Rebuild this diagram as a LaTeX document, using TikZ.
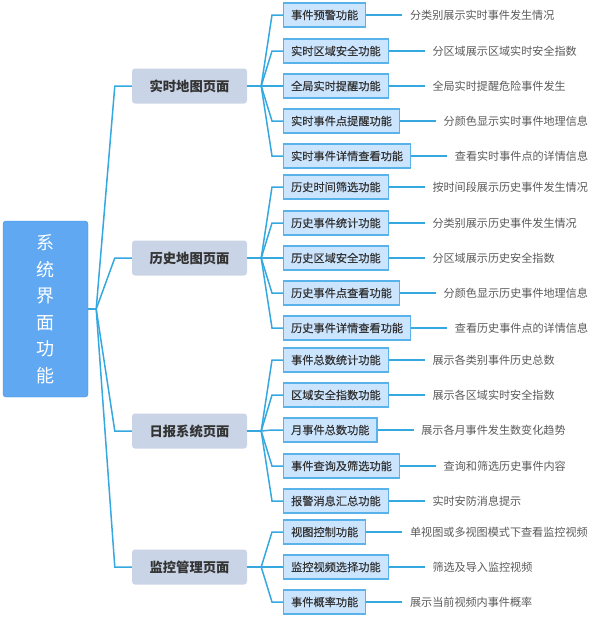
\documentclass[tikz,border=0pt]{standalone}
\usepackage{fontspec}
\setmainfont{Noto Sans CJK SC}
\newfontfamily\medfont[FakeBold=0.3]{Noto Sans CJK SC}
\usepackage{xcolor}
\usetikzlibrary{positioning}

\definecolor{rootfill}{HTML}{60A9F2}
\definecolor{rootline}{HTML}{3C8EDC}
\definecolor{pagefill}{HTML}{C9D4E6}
\definecolor{funcfill}{HTML}{CCE5FF}
\definecolor{funcline}{HTML}{5AB2EA}
\definecolor{linkcol}{HTML}{35A8E0}
\definecolor{textcol}{HTML}{333333}
\definecolor{desccol}{HTML}{595959}

\tikzset{
  rootbox/.style={draw=rootline, fill=rootfill, rounded corners=3pt, minimum width=85pt,
    minimum height=176pt, inner sep=0pt, text=white, align=center,
    font=\fontsize{18}{26.5}\selectfont},
  pagebox/.style={fill=pagefill, rounded corners=3pt, minimum width=115pt, minimum height=35pt,
    text=textcol, font=\fontsize{13.3}{15}\selectfont\bfseries},
  funcbox/.style={draw=funcline, line width=1.2pt, fill=funcfill, anchor=west, minimum height=24pt,
    inner xsep=7.5pt, inner ysep=0pt, text=textcol, font=\medfont\fontsize{11.2}{13}\selectfont},
  desc/.style={inner xsep=7.5pt, text=desccol, font=\fontsize{11.1}{13}\selectfont},
  link/.style={draw=linkcol, line width=1.5pt},
}

\begin{document}
\begin{tikzpicture}[x=1pt, y=-1pt]
\useasboundingbox (0,0) rectangle (598,622);

\node[rootbox] (root) at (45.5,309) {系\\统\\界\\面\\功\\能};

\node[pagebox] (p1) at (189.5,86) {实时地图页面};
\node[pagebox] (p2) at (189.5,258) {历史地图页面};
\node[pagebox] (p3) at (189.5,431) {日报系统页面};
\node[pagebox] (p4) at (189.5,567) {监控管理页面};

% 实时地图页面
\node[funcbox] (f11) at (283,15) {事件预警功能};
\node[funcbox] (f12) at (283,51) {实时区域安全功能};
\node[funcbox] (f13) at (283,86) {全局实时提醒功能};
\node[funcbox] (f14) at (283,121) {实时事件点提醒功能};
\node[funcbox] (f15) at (283,156) {实时事件详情查看功能};
\node[desc, right=36pt of f11] (d11) {分类别展示实时事件发生情况};
\node[desc, right=36pt of f12] (d12) {分区域展示区域实时安全指数};
\node[desc, right=36pt of f13] (d13) {全局实时提醒危险事件发生};
\node[desc, right=36pt of f14] (d14) {分颜色显示实时事件地理信息};
\node[desc, right=36pt of f15] (d15) {查看实时事件点的详情信息};

% 历史地图页面
\node[funcbox] (f21) at (283,187) {历史时间筛选功能};
\node[funcbox] (f22) at (283,223) {历史事件统计功能};
\node[funcbox] (f23) at (283,258) {历史区域安全功能};
\node[funcbox] (f24) at (283,293) {历史事件点查看功能};
\node[funcbox] (f25) at (283,328) {历史事件详情查看功能};
\node[desc, right=36pt of f21] (d21) {按时间段展示历史事件发生情况};
\node[desc, right=36pt of f22] (d22) {分类别展示历史事件发生情况};
\node[desc, right=36pt of f23] (d23) {分区域展示历史安全指数};
\node[desc, right=36pt of f24] (d24) {分颜色显示历史事件地理信息};
\node[desc, right=36pt of f25] (d25) {查看历史事件点的详情信息};

% 日报系统页面
\node[funcbox] (f31) at (283,360) {事件总数统计功能};
\node[funcbox] (f32) at (283,395) {区域安全指数功能};
\node[funcbox] (f33) at (283,430) {月事件总数功能};
\node[funcbox] (f34) at (283,466) {事件查询及筛选功能};
\node[funcbox] (f35) at (283,501) {报警消息汇总功能};
\node[desc, right=36pt of f31] (d31) {展示各类别事件历史总数};
\node[desc, right=36pt of f32] (d32) {展示各区域实时安全指数};
\node[desc, right=36pt of f33] (d33) {展示各月事件发生数变化趋势};
\node[desc, right=36pt of f34] (d34) {查询和筛选历史事件内容};
\node[desc, right=36pt of f35] (d35) {实时安防消息提示};

% 监控管理页面
\node[funcbox] (f41) at (283,532) {视图控制功能};
\node[funcbox] (f42) at (283,567) {监控视频选择功能};
\node[funcbox] (f43) at (283,602) {事件概率功能};
\node[desc, right=36pt of f41] (d41) {单视图或多视图模式下查看监控视频};
\node[desc, right=36pt of f42] (d42) {筛选及导入监控视频};
\node[desc, right=36pt of f43] (d43) {展示当前视频内事件概率};

\foreach \i/\n in {1/5,2/5,3/5,4/3}{
  \draw[link] (root.east) -- ++(8pt,0) -- ([xshift=-17pt]p\i.west) -- (p\i.west);
  \foreach \k in {1,...,\n}{
    \draw[link] (p\i.east) -- ++(14pt,0) -- ([xshift=-11pt]f\i\k.west) -- (f\i\k.west);
    \draw[link] (f\i\k.east) -- (d\i\k.west);
  }
}

\end{tikzpicture}
\end{document}
